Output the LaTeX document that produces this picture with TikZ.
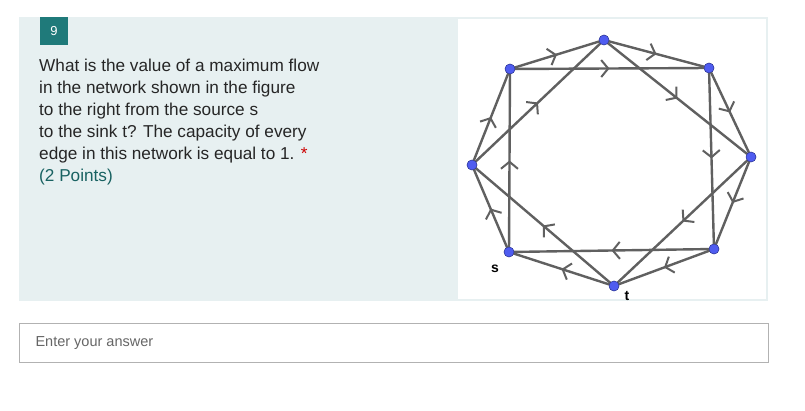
\documentclass[tikz,border=0pt]{standalone}
\usepackage{fontspec}
\setmainfont{Liberation Sans}
\usetikzlibrary{decorations.markings,arrows.meta}
\definecolor{panel}{HTML}{E7F0F1}
\definecolor{badge}{HTML}{1F7A7A}
\definecolor{edge}{HTML}{606060}
\definecolor{vtx}{HTML}{4F5CF0}
\tikzset{
  flow/.style={draw=edge,line width=2.4pt,postaction={decorate},
    decoration={markings,mark=at position 0.5 with {\arrow[edge,line width=2pt]{Straight Barb[length=7pt,width=17pt]}}}},
  vert/.style={circle,fill=vtx,draw=vtx!60!black,inner sep=0pt,minimum size=10pt},
  qtext/.style={anchor=north west,align=left,font=\fontsize{17.2}{22}\selectfont,text=black!85,inner sep=0pt}
}
\begin{document}
\begin{tikzpicture}[x=1pt,y=-1pt]
\useasboundingbox (0,0) rectangle (805,411);
\fill[white] (0,0) rectangle (805,411);
\fill[panel] (19,17) rectangle (768,301);
\fill[white] (458,19) rectangle (766,299);
\node[fill=badge,minimum size=28pt,inner sep=0pt,text=white,font=\fontsize{13}{13}\selectfont] (badge) at (54,31) {9};
\node[qtext] (q) at (39,59) {What is the value of a maximum flow\\in the network shown in the figure\\to the right from the source s\\to the sink t? The capacity of every\\edge in this network is equal to 1. \textcolor{red!80!black}{*}\\\textcolor{badge!80!black}{(2 Points)}};
\node[vert] (A) at (604,40) {};
\node[vert] (B) at (510,69) {};
\node[vert] (C) at (709,68) {};
\node[vert] (D) at (472,165) {};
\node[vert] (E) at (751,157) {};
\node[vert] (F) at (509,252) {};
\node[vert] (G) at (714,249) {};
\node[vert] (H) at (614,286) {};
\foreach \a/\b in {B/A,B/C,A/C,D/B,D/A,A/E,C/E,C/G,E/G,E/H,G/H,G/F,H/F,H/D,F/D,F/B}
  \path[flow] (\a.center) -- (\b.center);
\foreach \n in {A,B,C,D,E,F,G,H} \node[vert] at (\n) {};
\node[font=\bfseries\fontsize{14}{14}\selectfont] (s) at (495,269) {s};
\node[font=\bfseries\fontsize{14}{14}\selectfont] (t) at (627,296) {t};
\draw[black!30,fill=white] (19,323) rectangle (768,362);
\node[anchor=west,font=\fontsize{14.5}{14}\selectfont,text=black!60] (ans) at (32,343) {Enter your answer};
\end{tikzpicture}
\end{document}
